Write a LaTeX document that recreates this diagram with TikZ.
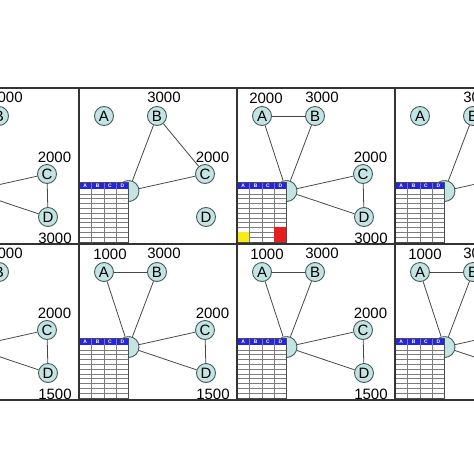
\documentclass[tikz,border=0pt]{standalone}
\usepackage{fontspec}
\setmainfont{Liberation Sans}
\definecolor{stfill}{RGB}{196,228,228}
\definecolor{stline}{RGB}{70,92,92}
\definecolor{hdrblue}{RGB}{36,36,226}
\definecolor{gridgray}{RGB}{125,125,125}
\definecolor{cellyellow}{RGB}{250,235,20}
\definecolor{cellred}{RGB}{230,30,30}
\tikzset{
  station/.style={circle,draw=stline,fill=stfill,line width=0.9pt,minimum size=19pt,inner sep=0pt,font=\fontsize{15}{15}\selectfont},
  hub/.style={circle,draw=stline,fill=stfill,line width=0.9pt,minimum size=21pt,inner sep=0pt},
  link/.style={draw=black!72,line width=0.8pt},
  amount/.style={inner sep=0pt,font=\fontsize{15}{15}\selectfont},
  colhead/.style={inner sep=0pt,text=white,font=\bfseries\fontsize{5}{5}\selectfont},
  frame/.style={draw=black!80,line width=1.1pt}
}
\newcommand{\stations}[3]{%
  \begin{scope}[shift={(#2,#3)}]
    \node[station] (#1a) at (25,28) {A};
    \node[station] (#1b) at (78,28) {B};
    \node[station] (#1c) at (126,86) {C};
    \node[station] (#1d) at (127,129) {D};
    \node[hub] (#1h) at (49.5,103) {};
  \end{scope}}
\newcommand{\sheet}[3]{%
  \begin{scope}[shift={(#1,#2)}]
    \fill[white] (0,94) rectangle (49.5,153.8);
    \draw[gray!45,densely dotted,line width=0.5pt] (49.5,92.5) arc[start angle=-90,end angle=-270,radius=10.5];
    \fill[hdrblue] (0,94) rectangle (49.5,101);
    \foreach \k in {1,...,11}
      \draw[gridgray,line width=0.4pt] (0,101+4.8*\k) -- (49.5,101+4.8*\k);
    \foreach \c in {12.4,24.8,37.1}
      \draw[gridgray,line width=0.5pt] (\c,94) -- (\c,153.8);
    #3
    \draw[black!70,line width=0.6pt] (0,94) rectangle (49.5,153.8);
    \foreach \t [count=\i] in {A,B,C,D}
      \node[colhead] at (12.4*\i-6.2,97.6) {\t};
  \end{scope}}
\begin{document}
\begin{tikzpicture}[x=1pt,y=-1pt]
  \useasboundingbox (0,0) rectangle (474,474);
  \clip (0,0) rectangle (474,474);

  % top row
  \stations{t1}{-79}{88}
  \stations{t2}{79}{88}
  \stations{t3}{237}{88}
  \stations{t4}{395}{88}
  \begin{scope}[link]
    \draw (t1h) to (t1c);
    \draw (t1h) to (t1d);
    \draw (t1c) to (t1d);
    \draw (t2b) to (t2h);
    \draw (t2b) to (t2c);
    \draw (t2h) to (t2c);
    \draw (t3a) to (t3b);
    \draw (t3a) to (t3h);
    \draw (t3b) to (t3h);
    \draw (t3h) to (t3c);
    \draw (t3h) to (t3d);
    \draw (t3c) to (t3d);
    \draw (t4b) to (t4h);
    \draw (t4b) to (t4c);
    \draw (t4h) to (t4c);
  \end{scope}
  \sheet{79}{88}{}
  \sheet{237}{88}{%
    \fill[cellyellow] (0.3,143.6) rectangle (12.4,153.8);
    \fill[cellred] (37.1,139.4) rectangle (49.2,153.8);}
  \sheet{395}{88}{}
  \node[amount] (t1lb) at (6,97.5) {3000};
  \node[amount] (t1lc) at (54.5,157) {2000};
  \node[amount] (t1ld) at (55,238) {3000};
  \node[amount] (t2lb) at (164,97.5) {3000};
  \node[amount] (t2lc) at (212.5,157) {2000};
  \node[amount] (t3la) at (266,98.5) {2000};
  \node[amount] (t3lb) at (322,97.5) {3000};
  \node[amount] (t3lc) at (370.5,157) {2000};
  \node[amount] (t3ld) at (371,238) {3000};
  \node[amount] (t4lb) at (480,97.5) {3000};

  % bottom row
  \stations{b1}{-79}{244}
  \stations{b2}{79}{244}
  \stations{b3}{237}{244}
  \stations{b4}{395}{244}
  \begin{scope}[link]
    \draw (b1h) to (b1c);
    \draw (b1h) to (b1d);
    \draw (b1c) to (b1d);
    \draw (b2a) to (b2b);
    \draw (b2a) to (b2h);
    \draw (b2b) to (b2h);
    \draw (b2h) to (b2c);
    \draw (b2h) to (b2d);
    \draw (b2c) to (b2d);
    \draw (b3a) to (b3b);
    \draw (b3a) to (b3h);
    \draw (b3b) to (b3h);
    \draw (b3h) to (b3c);
    \draw (b3h) to (b3d);
    \draw (b3c) to (b3d);
    \draw (b4a) to (b4b);
    \draw (b4a) to (b4h);
    \draw (b4b) to (b4h);
    \draw (b4h) to (b4c);
    \draw (b4h) to (b4d);
    \draw (b4c) to (b4d);
  \end{scope}
  \sheet{79}{244}{}
  \sheet{237}{244}{}
  \sheet{395}{244}{}
  \node[amount] (b1lb) at (6,253.5) {3000};
  \node[amount] (b1lc) at (54.5,313) {2000};
  \node[amount] (b1ld) at (55,394) {1500};
  \node[amount] (b2la) at (110,254.5) {1000};
  \node[amount] (b2lb) at (164,253.5) {3000};
  \node[amount] (b2lc) at (212.5,313) {2000};
  \node[amount] (b2ld) at (213,394) {1500};
  \node[amount] (b3la) at (267,254.5) {1000};
  \node[amount] (b3lb) at (322,253.5) {3000};
  \node[amount] (b3lc) at (370.5,313) {2000};
  \node[amount] (b3ld) at (371,394) {1500};
  \node[amount] (b4la) at (425,254.5) {1000};
  \node[amount] (b4lb) at (480,253.5) {3000};

  \draw[frame] (0,88) -- (474,88);
  \draw[frame] (0,244) -- (474,244);
  \draw[frame] (0,400) -- (474,400);
  \foreach \x in {79,237,395}
    \draw[frame] (\x,88) -- (\x,400);
\end{tikzpicture}
\end{document}
